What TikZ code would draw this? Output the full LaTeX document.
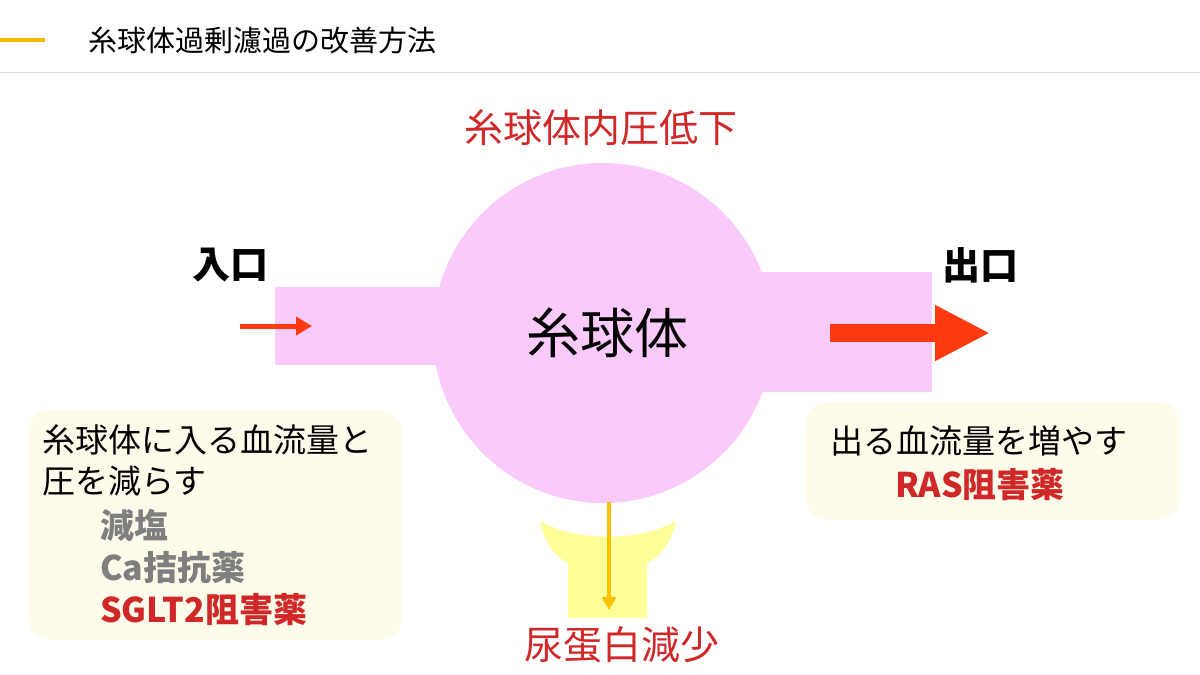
\documentclass[tikz,border=0pt]{standalone}
\usepackage{fontspec}
\setmainfont{Noto Sans CJK JP}
\usetikzlibrary{arrows.meta}
\definecolor{pinkfill}{HTML}{FACBFA}
\definecolor{boxfill}{HTML}{FFFBEA}
\definecolor{cupfill}{HTML}{FFFF99}
\definecolor{darkred}{HTML}{D02828}
\definecolor{arrowred}{HTML}{FF3A10}
\definecolor{titlebar}{HTML}{F5B800}
\definecolor{urine}{HTML}{FFC000}
\definecolor{greytext}{HTML}{7F7F7F}
\tikzset{lbl/.style = {inner sep=0pt, font=\fontsize{#1}{#1}\selectfont},
           lbl/.default = 33,
           bld/.style = {inner sep=0pt, font=\fontsize{#1}{#1}\selectfont\bfseries},
           bld/.default = 34,
           note/.style = {rounded corners=22pt, fill=boxfill, draw=none},
           part/.style = {fill=pinkfill, draw=none}}
\begin{document}
\begin{tikzpicture}[x=1pt, y=-1pt]
    \useasboundingbox (0,0) rectangle (1200,675);
    % header
    \draw[titlebar, line width=4pt] (0,40) -- (45,40);
    \draw[black!15, line width=1pt] (0,72) -- (1200,72);
    \node[lbl=29, anchor=west] (title) at (88,40) {糸球体過剰濾過の改善方法};
    % glomerulus
    \fill[part] (275,287) rectangle (460,365);
    \fill[part] (750,272) rectangle (932,392);
    \fill[part] (603,333) circle (170);
    \node[lbl=54] (glom) at (607,333) {糸球体};
    \node[lbl=39, text=darkred] (press) at (601,128) {糸球体内圧低下};
    \node[bld=38] (in) at (230,265) {入口};
    \node[bld=38] (out) at (980,265) {出口};
    % flows
    \coordinate (inA) at (240,326); \coordinate (inB) at (312,326);
    \draw[arrowred, line width=5pt, -{Triangle[length=16pt, width=18pt]}] (inA) -- (inB);
    \coordinate (outA) at (830,333); \coordinate (outB) at (990,333);
    \draw[arrowred, line width=18pt, -{Triangle[length=55pt, width=52pt]}] (outA) -- (outB);
    % cup
    \fill[cupfill] (540,521) .. controls (575,542) and (641,542) .. (676,521)
        .. controls (672,542) and (660,557) .. (647,563) -- (647,618) -- (568,618)
        -- (568,563) .. controls (555,557) and (544,542) .. (540,521) -- cycle;
    \coordinate (urA) at (609,502); \coordinate (urB) at (609,610);
    \draw[urine, line width=4pt, -{Triangle[length=13pt, width=14pt]}] (urA) -- (urB);
    \node[lbl=39, text=darkred] (prot) at (622,645) {尿蛋白減少};
    % notes
    \fill[note] (28,410) rectangle (402,640);
    \node[lbl, anchor=west] (l1) at (42,440) {糸球体に入る血流量と};
    \node[lbl, anchor=west] (l2) at (42,481) {圧を減らす};
    \node[bld, anchor=west, text=greytext] (l3) at (100,525) {減塩};
    \node[bld, anchor=west, text=greytext] (l4) at (100,568) {Ca拮抗薬};
    \node[bld, anchor=west, text=darkred] (l5) at (100,610) {SGLT2阻害薬};
    \fill[note] (805,402) rectangle (1180,520);
    \node[lbl, anchor=west] (r1) at (830,441) {出る血流量を増やす};
    \node[bld, text=darkred] (r2) at (980,485) {RAS阻害薬};
\end{tikzpicture}
\end{document}
